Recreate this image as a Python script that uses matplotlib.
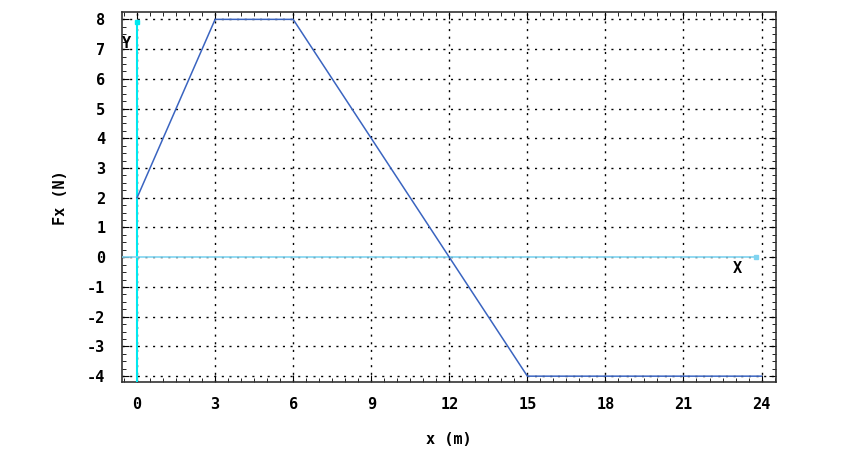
import matplotlib
matplotlib.use("Agg")
import matplotlib.pyplot as plt
from matplotlib.ticker import MultipleLocator

# force data
x_m = [0, 3, 6, 15, 24]
fx_n = [2, 8, 8, -4, -4]

xticks = [0, 3, 6, 9, 12, 15, 18, 21, 24]
yticks = list(range(-4, 9))

plt.rcParams['font.family'] = ['DejaVu Sans Mono']
plt.rcParams['font.weight'] = 'bold'
plt.rcParams['axes.unicode_minus'] = False

fig = plt.figure(figsize=(8.47, 4.70), dpi=100)
ax = fig.add_axes([0.144, 0.187, 0.772, 0.787])

ax.set_xlim(-0.58, 24.55)
ax.set_ylim(-4.2, 8.24)

# axis lines through the origin
ax.plot([0, 0], [-4.2, 7.9], color="#00e8f0", lw=1.5, zorder=3)
ax.plot([0], [7.9], marker="s", ms=3, color="#00e8f0", zorder=3)
ax.plot([-0.58, 23.8], [0, 0], color="#80d4f0", lw=1.2, zorder=3)
ax.plot([23.8], [0], marker="s", ms=3, color="#80d4f0", zorder=3)
ax.text(-0.6, 7.2, "Y", fontsize=11, fontweight="bold", ha="left", va="center")
ax.text(22.9, -0.38, "X", fontsize=11, fontweight="bold", ha="left", va="center")

ax.plot(x_m, fx_n, color="#3a64c0", lw=1.1, zorder=4)

ax.set_xticks(xticks)
ax.set_yticks(yticks)
ax.xaxis.set_minor_locator(MultipleLocator(0.5))
ax.yaxis.set_minor_locator(MultipleLocator(0.25))
ax.tick_params(which="both", direction="in", top=True, right=True, labelsize=11)
ax.tick_params(which="major", length=5)
ax.tick_params(which="minor", length=3)
ax.tick_params(axis="x", which="major", pad=11)
ax.tick_params(axis="y", which="major", pad=12)
ax.grid(True, which="major", color="black", linestyle=(0, (1.5, 4)), lw=1)

for s in ax.spines.values():
    s.set_linewidth(1.2)
    s.set_color("#333333")

ax.set_xlabel("x (m)", fontsize=11, fontweight="bold", labelpad=14)
ax.set_ylabel("Fx (N)", fontsize=11, fontweight="bold", labelpad=14)

fig.savefig("out.png", dpi=100)
